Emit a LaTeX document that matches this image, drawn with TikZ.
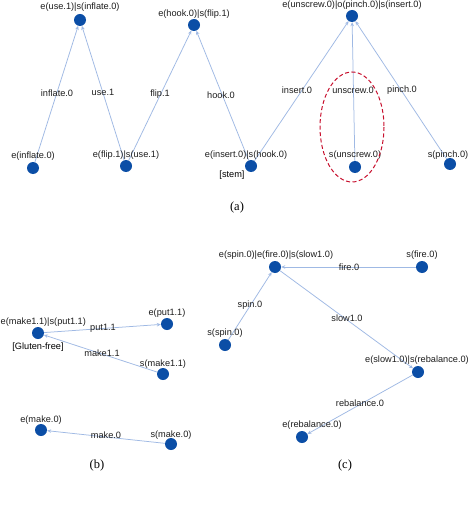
\documentclass[tikz,border=0pt]{standalone}
\usepackage{fontspec}
\setmainfont{Liberation Serif}
\newfontfamily\lblfont{Liberation Sans}
\usetikzlibrary{arrows.meta}
\definecolor{nodeblue}{HTML}{0B4EA6}
\definecolor{edgeblue}{HTML}{9FB9E4}
\definecolor{lblgray}{HTML}{1E1E1E}
\definecolor{redd}{HTML}{C8102E}
\begin{document}
\begin{tikzpicture}[x=1pt,y=-1pt,
 dot/.style={circle,fill=nodeblue,minimum size=12pt,inner sep=0pt},
 lbl/.style={font=\lblfont\fontsize{9.2}{10}\selectfont,text=lblgray,inner sep=0pt},
 edge/.style={draw=edgeblue,line width=0.75pt,-{Stealth[length=4pt,width=3.5pt]}},
 captxt/.style={font=\fontsize{12.5}{14}\selectfont,inner sep=0pt}]
\useasboundingbox[fill=white] (0,0) rectangle (474,505);
% ---------- (a)
\node[dot] (a1) at (80,20) {};
\node[dot] (a2) at (33,168) {};
\node[dot] (a3) at (126,166) {};
\node[dot] (a4) at (194,25) {};
\node[dot] (a5) at (251,166) {};
\node[dot] (a6) at (352,16) {};
\node[dot] (a7) at (355,167) {};
\node[dot] (a8) at (450,164) {};
\draw[edge] (a2) -- (a1);
\draw[edge] (a3) -- (a1);
\draw[edge] (a3) -- (a4);
\draw[edge] (a5) -- (a4);
\draw[edge] (a5) -- (a6);
\draw[edge] (a7) -- (a6);
\draw[edge] (a8) -- (a6);
\node[lbl] (ta1) at (80,7) {e(use.1)|s(inflate.0)};
\node[lbl] (ta2) at (33,156) {e(inflate.0)};
\node[lbl] (ta3) at (126,155) {e(flip.1)|s(use.1)};
\node[lbl] (ta4) at (194,14) {e(hook.0)|s(flip.1)};
\node[lbl] (ta5) at (246,155) {e(insert.0)|s(hook.0)};
\node[lbl,text=black] (stem) at (232,175) {[stem]};
\node[lbl] (ta6) at (352,5) {e(unscrew.0)|o(pinch.0)|s(insert.0)};
\node[lbl] (ta7) at (355,155) {s(unscrew.0)};
\node[lbl] (ta8) at (448,155) {s(pinch.0)};
\node[lbl] (ea1) at (57,93) {inflate.0};
\node[lbl] (ea2) at (103,92) {use.1};
\node[lbl] (ea3) at (160,94) {flip.1};
\node[lbl] (ea4) at (221,95) {hook.0};
\node[lbl] (ea5) at (297,90) {insert.0};
\node[lbl] (ea6) at (353,90) {unscrew.0};
\node[lbl] (ea7) at (402,90) {pinch.0};
\draw[redd,dashed,line width=1pt,dash pattern=on 4pt off 2.5pt] (352,127) ellipse [x radius=32,y radius=55];
\node[captxt] (capa) at (237,207) {(a)};
% ---------- (b)
\node[dot] (b1) at (38,333) {};
\node[dot] (b2) at (167,324) {};
\node[dot] (b3) at (163,374) {};
\node[dot] (b4) at (41,430) {};
\node[dot] (b5) at (171,444) {};
\draw[edge] (b1) -- (b2);
\draw[edge] (b3) -- (b1);
\draw[edge] (b5) -- (b4);
\node[lbl,anchor=west] (tb1) at (0.5,322) {e(make1.1)|s(put1.1)};
\node[lbl,text=black] (gf) at (38,347) {[Gluten-free]};
\node[lbl] (tb2) at (167,313) {e(put1.1)};
\node[lbl] (tb3) at (163,364) {s(make1.1)};
\node[lbl] (tb4) at (41,420) {e(make.0)};
\node[lbl] (tb5) at (171,435) {s(make.0)};
\node[lbl] (eb1) at (103,328) {put1.1};
\node[lbl] (eb2) at (102,353) {make1.1};
\node[lbl] (eb3) at (106,435) {make.0};
\node[captxt] (capb) at (97,465) {(b)};
% ---------- (c)
\node[dot] (c1) at (275,267) {};
\node[dot] (c2) at (422,267) {};
\node[dot] (c3) at (225,345) {};
\node[dot] (c4) at (418,372) {};
\node[dot] (c5) at (302,437) {};
\draw[edge] (c2) -- (c1);
\draw[edge] (c3) -- (c1);
\draw[edge] (c1) -- (c4);
\draw[edge] (c4) -- (c5);
\node[lbl] (tc1) at (276,255) {e(spin.0)|e(fire.0)|s(slow1.0)};
\node[lbl] (tc2) at (422,255) {s(fire.0)};
\node[lbl] (tc3) at (225,333) {s(spin.0)};
\node[lbl] (tc4) at (417,360) {e(slow1.0)|s(rebalance.0)};
\node[lbl] (tc5) at (312,425) {e(rebalance.0)};
\node[lbl] (ec1) at (349,267) {fire.0};
\node[lbl] (ec2) at (250,305) {spin.0};
\node[lbl] (ec3) at (347,318) {slow1.0};
\node[lbl] (ec4) at (360,403) {rebalance.0};
\node[captxt] (capc) at (345,465) {(c)};
\end{tikzpicture}
\end{document}
